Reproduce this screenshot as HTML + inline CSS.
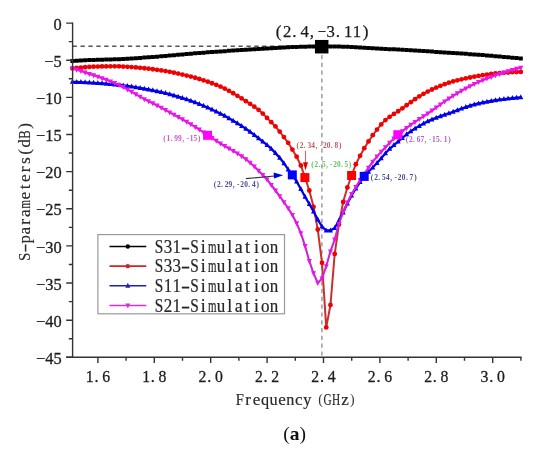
<!DOCTYPE html>
<html><head><meta charset="utf-8"><title>S-parameters</title><style>html,body{margin:0;padding:0;background:#fff;overflow:hidden;}svg{display:block;filter:blur(0.35px);}</style></head><body>
<svg width="550" height="457" viewBox="0 0 550 457">
<rect width="550" height="457" fill="#fff"/>
<line x1="72.6" y1="46.3" x2="315" y2="46.3" stroke="#555" stroke-width="1.4" stroke-dasharray="4.3 3.6"/>
<line x1="321.9" y1="55" x2="321.9" y2="357.3" stroke="#939393" stroke-width="1.35" stroke-dasharray="4.2 3.6"/>
<polyline points="72.43,60.90 76.66,60.69 80.89,60.48 85.12,60.29 89.35,60.11 93.58,59.94 97.81,59.78 102.04,59.63 106.27,59.51 110.50,59.40 114.73,59.28 118.96,59.14 123.19,58.96 127.42,58.75 131.65,58.50 135.88,58.23 140.11,57.93 144.34,57.62 148.57,57.30 152.80,56.97 157.03,56.63 161.26,56.30 165.49,55.93 169.72,55.54 173.95,55.14 178.18,54.76 182.41,54.40 186.64,54.04 190.87,53.69 195.10,53.35 199.33,53.01 203.56,52.68 207.79,52.36 212.02,52.05 216.25,51.75 220.48,51.44 224.71,51.15 228.94,50.86 233.17,50.57 237.40,50.29 241.63,50.02 245.86,49.75 250.09,49.49 254.32,49.24 258.55,48.97 262.78,48.71 267.01,48.45 271.24,48.19 275.47,47.94 279.70,47.70 283.93,47.47 288.16,47.26 292.39,47.08 296.62,46.91 300.85,46.77 305.08,46.64 309.31,46.51 313.54,46.40 317.77,46.33 322.00,46.30 326.23,46.32 330.46,46.39 334.69,46.48 338.92,46.57 343.15,46.69 347.38,46.84 351.61,47.02 355.84,47.23 360.07,47.45 364.30,47.70 368.53,47.94 372.76,48.19 376.99,48.43 381.22,48.67 385.45,48.89 389.68,49.13 393.91,49.36 398.14,49.60 402.37,49.84 406.60,50.09 410.83,50.33 415.06,50.59 419.29,50.84 423.52,51.10 427.75,51.36 431.98,51.62 436.21,51.89 440.44,52.16 444.67,52.43 448.90,52.71 453.13,52.99 457.36,53.27 461.59,53.56 465.82,53.85 470.05,54.16 474.28,54.47 478.51,54.79 482.74,55.11 486.97,55.45 491.20,55.80 495.43,56.16 499.66,56.52 503.89,56.90 508.12,57.28 512.35,57.68 516.58,58.08 520.81,58.48" fill="none" stroke="#000" stroke-width="2.4"/>
<path d="M70.43 58.90h4.0v4.0h-4.0zM74.66 58.69h4.0v4.0h-4.0zM78.89 58.48h4.0v4.0h-4.0zM83.12 58.29h4.0v4.0h-4.0zM87.35 58.11h4.0v4.0h-4.0zM91.58 57.94h4.0v4.0h-4.0zM95.81 57.78h4.0v4.0h-4.0zM100.04 57.63h4.0v4.0h-4.0zM104.27 57.51h4.0v4.0h-4.0zM108.50 57.40h4.0v4.0h-4.0zM112.73 57.28h4.0v4.0h-4.0zM116.96 57.14h4.0v4.0h-4.0zM121.19 56.96h4.0v4.0h-4.0zM125.42 56.75h4.0v4.0h-4.0zM129.65 56.50h4.0v4.0h-4.0zM133.88 56.23h4.0v4.0h-4.0zM138.11 55.93h4.0v4.0h-4.0zM142.34 55.62h4.0v4.0h-4.0zM146.57 55.30h4.0v4.0h-4.0zM150.80 54.97h4.0v4.0h-4.0zM155.03 54.63h4.0v4.0h-4.0zM159.26 54.30h4.0v4.0h-4.0zM163.49 53.93h4.0v4.0h-4.0zM167.72 53.54h4.0v4.0h-4.0zM171.95 53.14h4.0v4.0h-4.0zM176.18 52.76h4.0v4.0h-4.0zM180.41 52.40h4.0v4.0h-4.0zM184.64 52.04h4.0v4.0h-4.0zM188.87 51.69h4.0v4.0h-4.0zM193.10 51.35h4.0v4.0h-4.0zM197.33 51.01h4.0v4.0h-4.0zM201.56 50.68h4.0v4.0h-4.0zM205.79 50.36h4.0v4.0h-4.0zM210.02 50.05h4.0v4.0h-4.0zM214.25 49.75h4.0v4.0h-4.0zM218.48 49.44h4.0v4.0h-4.0zM222.71 49.15h4.0v4.0h-4.0zM226.94 48.86h4.0v4.0h-4.0zM231.17 48.57h4.0v4.0h-4.0zM235.40 48.29h4.0v4.0h-4.0zM239.63 48.02h4.0v4.0h-4.0zM243.86 47.75h4.0v4.0h-4.0zM248.09 47.49h4.0v4.0h-4.0zM252.32 47.24h4.0v4.0h-4.0zM256.55 46.97h4.0v4.0h-4.0zM260.78 46.71h4.0v4.0h-4.0zM265.01 46.45h4.0v4.0h-4.0zM269.24 46.19h4.0v4.0h-4.0zM273.47 45.94h4.0v4.0h-4.0zM277.70 45.70h4.0v4.0h-4.0zM281.93 45.47h4.0v4.0h-4.0zM286.16 45.26h4.0v4.0h-4.0zM290.39 45.08h4.0v4.0h-4.0zM294.62 44.91h4.0v4.0h-4.0zM298.85 44.77h4.0v4.0h-4.0zM303.08 44.64h4.0v4.0h-4.0zM307.31 44.51h4.0v4.0h-4.0zM311.54 44.40h4.0v4.0h-4.0zM315.77 44.33h4.0v4.0h-4.0zM320.00 44.30h4.0v4.0h-4.0zM324.23 44.32h4.0v4.0h-4.0zM328.46 44.39h4.0v4.0h-4.0zM332.69 44.48h4.0v4.0h-4.0zM336.92 44.57h4.0v4.0h-4.0zM341.15 44.69h4.0v4.0h-4.0zM345.38 44.84h4.0v4.0h-4.0zM349.61 45.02h4.0v4.0h-4.0zM353.84 45.23h4.0v4.0h-4.0zM358.07 45.45h4.0v4.0h-4.0zM362.30 45.70h4.0v4.0h-4.0zM366.53 45.94h4.0v4.0h-4.0zM370.76 46.19h4.0v4.0h-4.0zM374.99 46.43h4.0v4.0h-4.0zM379.22 46.67h4.0v4.0h-4.0zM383.45 46.89h4.0v4.0h-4.0zM387.68 47.13h4.0v4.0h-4.0zM391.91 47.36h4.0v4.0h-4.0zM396.14 47.60h4.0v4.0h-4.0zM400.37 47.84h4.0v4.0h-4.0zM404.60 48.09h4.0v4.0h-4.0zM408.83 48.33h4.0v4.0h-4.0zM413.06 48.59h4.0v4.0h-4.0zM417.29 48.84h4.0v4.0h-4.0zM421.52 49.10h4.0v4.0h-4.0zM425.75 49.36h4.0v4.0h-4.0zM429.98 49.62h4.0v4.0h-4.0zM434.21 49.89h4.0v4.0h-4.0zM438.44 50.16h4.0v4.0h-4.0zM442.67 50.43h4.0v4.0h-4.0zM446.90 50.71h4.0v4.0h-4.0zM451.13 50.99h4.0v4.0h-4.0zM455.36 51.27h4.0v4.0h-4.0zM459.59 51.56h4.0v4.0h-4.0zM463.82 51.85h4.0v4.0h-4.0zM468.05 52.16h4.0v4.0h-4.0zM472.28 52.47h4.0v4.0h-4.0zM476.51 52.79h4.0v4.0h-4.0zM480.74 53.11h4.0v4.0h-4.0zM484.97 53.45h4.0v4.0h-4.0zM489.20 53.80h4.0v4.0h-4.0zM493.43 54.16h4.0v4.0h-4.0zM497.66 54.52h4.0v4.0h-4.0zM501.89 54.90h4.0v4.0h-4.0zM506.12 55.28h4.0v4.0h-4.0zM510.35 55.68h4.0v4.0h-4.0zM514.58 56.08h4.0v4.0h-4.0zM518.81 56.48h4.0v4.0h-4.0z" fill="#000"/>
<polyline points="72.43,68.40 76.66,67.97 80.89,67.58 85.12,67.24 89.35,66.95 93.58,66.72 97.81,66.56 102.04,66.46 106.27,66.38 110.50,66.32 114.73,66.30 118.96,66.37 123.19,66.57 127.42,66.83 131.65,67.11 135.88,67.43 140.11,67.80 144.34,68.23 148.57,68.71 152.80,69.23 157.03,69.79 161.26,70.38 165.49,71.05 169.72,71.81 173.95,72.65 178.18,73.56 182.41,74.53 186.64,75.56 190.87,76.62 195.10,77.76 199.33,78.98 203.56,80.30 207.79,81.71 212.02,83.23 216.25,84.86 220.48,86.61 224.71,88.58 228.94,90.82 233.17,93.25 237.40,95.82 241.63,98.47 245.86,101.14 250.09,103.83 254.32,106.68 258.55,109.83 262.78,113.53 267.01,117.90 271.24,122.22 275.47,126.42 279.70,131.57 283.93,137.10 288.16,142.83 292.39,149.61 296.62,156.71 300.85,165.50 305.08,177.60 309.31,190.50 313.54,206.80 317.77,229.50 322.00,262.80 326.23,327.40 330.46,305.00 334.69,254.00 338.92,224.50 343.15,202.00 347.38,187.50 351.61,175.50 355.84,164.27 360.07,155.80 364.30,148.22 368.53,141.41 372.76,135.22 376.99,129.62 381.22,124.42 385.45,120.10 389.68,116.80 393.91,113.97 398.14,111.26 402.37,108.33 406.60,105.25 410.83,102.16 415.06,99.15 419.29,96.34 423.52,93.82 427.75,91.57 431.98,89.49 436.21,87.58 440.44,85.82 444.67,84.19 448.90,82.71 453.13,81.46 457.36,80.34 461.59,79.31 465.82,78.37 470.05,77.51 474.28,76.71 478.51,75.95 482.74,75.22 486.97,74.55 491.20,73.97 495.43,73.52 499.66,73.14 503.89,72.79 508.12,72.48 512.35,72.21 516.58,72.02 520.81,71.90" fill="none" stroke="#c83030" stroke-width="2.0"/>
<circle cx="72.43" cy="68.40" r="2.4" fill="#f00000"/><circle cx="76.66" cy="67.97" r="2.4" fill="#f00000"/><circle cx="80.89" cy="67.58" r="2.4" fill="#f00000"/><circle cx="85.12" cy="67.24" r="2.4" fill="#f00000"/><circle cx="89.35" cy="66.95" r="2.4" fill="#f00000"/><circle cx="93.58" cy="66.72" r="2.4" fill="#f00000"/><circle cx="97.81" cy="66.56" r="2.4" fill="#f00000"/><circle cx="102.04" cy="66.46" r="2.4" fill="#f00000"/><circle cx="106.27" cy="66.38" r="2.4" fill="#f00000"/><circle cx="110.50" cy="66.32" r="2.4" fill="#f00000"/><circle cx="114.73" cy="66.30" r="2.4" fill="#f00000"/><circle cx="118.96" cy="66.37" r="2.4" fill="#f00000"/><circle cx="123.19" cy="66.57" r="2.4" fill="#f00000"/><circle cx="127.42" cy="66.83" r="2.4" fill="#f00000"/><circle cx="131.65" cy="67.11" r="2.4" fill="#f00000"/><circle cx="135.88" cy="67.43" r="2.4" fill="#f00000"/><circle cx="140.11" cy="67.80" r="2.4" fill="#f00000"/><circle cx="144.34" cy="68.23" r="2.4" fill="#f00000"/><circle cx="148.57" cy="68.71" r="2.4" fill="#f00000"/><circle cx="152.80" cy="69.23" r="2.4" fill="#f00000"/><circle cx="157.03" cy="69.79" r="2.4" fill="#f00000"/><circle cx="161.26" cy="70.38" r="2.4" fill="#f00000"/><circle cx="165.49" cy="71.05" r="2.4" fill="#f00000"/><circle cx="169.72" cy="71.81" r="2.4" fill="#f00000"/><circle cx="173.95" cy="72.65" r="2.4" fill="#f00000"/><circle cx="178.18" cy="73.56" r="2.4" fill="#f00000"/><circle cx="182.41" cy="74.53" r="2.4" fill="#f00000"/><circle cx="186.64" cy="75.56" r="2.4" fill="#f00000"/><circle cx="190.87" cy="76.62" r="2.4" fill="#f00000"/><circle cx="195.10" cy="77.76" r="2.4" fill="#f00000"/><circle cx="199.33" cy="78.98" r="2.4" fill="#f00000"/><circle cx="203.56" cy="80.30" r="2.4" fill="#f00000"/><circle cx="207.79" cy="81.71" r="2.4" fill="#f00000"/><circle cx="212.02" cy="83.23" r="2.4" fill="#f00000"/><circle cx="216.25" cy="84.86" r="2.4" fill="#f00000"/><circle cx="220.48" cy="86.61" r="2.4" fill="#f00000"/><circle cx="224.71" cy="88.58" r="2.4" fill="#f00000"/><circle cx="228.94" cy="90.82" r="2.4" fill="#f00000"/><circle cx="233.17" cy="93.25" r="2.4" fill="#f00000"/><circle cx="237.40" cy="95.82" r="2.4" fill="#f00000"/><circle cx="241.63" cy="98.47" r="2.4" fill="#f00000"/><circle cx="245.86" cy="101.14" r="2.4" fill="#f00000"/><circle cx="250.09" cy="103.83" r="2.4" fill="#f00000"/><circle cx="254.32" cy="106.68" r="2.4" fill="#f00000"/><circle cx="258.55" cy="109.83" r="2.4" fill="#f00000"/><circle cx="262.78" cy="113.53" r="2.4" fill="#f00000"/><circle cx="267.01" cy="117.90" r="2.4" fill="#f00000"/><circle cx="271.24" cy="122.22" r="2.4" fill="#f00000"/><circle cx="275.47" cy="126.42" r="2.4" fill="#f00000"/><circle cx="279.70" cy="131.57" r="2.4" fill="#f00000"/><circle cx="283.93" cy="137.10" r="2.4" fill="#f00000"/><circle cx="288.16" cy="142.83" r="2.4" fill="#f00000"/><circle cx="292.39" cy="149.61" r="2.4" fill="#f00000"/><circle cx="296.62" cy="156.71" r="2.4" fill="#f00000"/><circle cx="300.85" cy="165.50" r="2.4" fill="#f00000"/><circle cx="305.08" cy="177.60" r="2.4" fill="#f00000"/><circle cx="309.31" cy="190.50" r="2.4" fill="#f00000"/><circle cx="313.54" cy="206.80" r="2.4" fill="#f00000"/><circle cx="317.77" cy="229.50" r="2.4" fill="#f00000"/><circle cx="322.00" cy="262.80" r="2.4" fill="#f00000"/><circle cx="326.23" cy="327.40" r="2.4" fill="#f00000"/><circle cx="330.46" cy="305.00" r="2.4" fill="#f00000"/><circle cx="334.69" cy="254.00" r="2.4" fill="#f00000"/><circle cx="338.92" cy="224.50" r="2.4" fill="#f00000"/><circle cx="343.15" cy="202.00" r="2.4" fill="#f00000"/><circle cx="347.38" cy="187.50" r="2.4" fill="#f00000"/><circle cx="351.61" cy="175.50" r="2.4" fill="#f00000"/><circle cx="355.84" cy="164.27" r="2.4" fill="#f00000"/><circle cx="360.07" cy="155.80" r="2.4" fill="#f00000"/><circle cx="364.30" cy="148.22" r="2.4" fill="#f00000"/><circle cx="368.53" cy="141.41" r="2.4" fill="#f00000"/><circle cx="372.76" cy="135.22" r="2.4" fill="#f00000"/><circle cx="376.99" cy="129.62" r="2.4" fill="#f00000"/><circle cx="381.22" cy="124.42" r="2.4" fill="#f00000"/><circle cx="385.45" cy="120.10" r="2.4" fill="#f00000"/><circle cx="389.68" cy="116.80" r="2.4" fill="#f00000"/><circle cx="393.91" cy="113.97" r="2.4" fill="#f00000"/><circle cx="398.14" cy="111.26" r="2.4" fill="#f00000"/><circle cx="402.37" cy="108.33" r="2.4" fill="#f00000"/><circle cx="406.60" cy="105.25" r="2.4" fill="#f00000"/><circle cx="410.83" cy="102.16" r="2.4" fill="#f00000"/><circle cx="415.06" cy="99.15" r="2.4" fill="#f00000"/><circle cx="419.29" cy="96.34" r="2.4" fill="#f00000"/><circle cx="423.52" cy="93.82" r="2.4" fill="#f00000"/><circle cx="427.75" cy="91.57" r="2.4" fill="#f00000"/><circle cx="431.98" cy="89.49" r="2.4" fill="#f00000"/><circle cx="436.21" cy="87.58" r="2.4" fill="#f00000"/><circle cx="440.44" cy="85.82" r="2.4" fill="#f00000"/><circle cx="444.67" cy="84.19" r="2.4" fill="#f00000"/><circle cx="448.90" cy="82.71" r="2.4" fill="#f00000"/><circle cx="453.13" cy="81.46" r="2.4" fill="#f00000"/><circle cx="457.36" cy="80.34" r="2.4" fill="#f00000"/><circle cx="461.59" cy="79.31" r="2.4" fill="#f00000"/><circle cx="465.82" cy="78.37" r="2.4" fill="#f00000"/><circle cx="470.05" cy="77.51" r="2.4" fill="#f00000"/><circle cx="474.28" cy="76.71" r="2.4" fill="#f00000"/><circle cx="478.51" cy="75.95" r="2.4" fill="#f00000"/><circle cx="482.74" cy="75.22" r="2.4" fill="#f00000"/><circle cx="486.97" cy="74.55" r="2.4" fill="#f00000"/><circle cx="491.20" cy="73.97" r="2.4" fill="#f00000"/><circle cx="495.43" cy="73.52" r="2.4" fill="#f00000"/><circle cx="499.66" cy="73.14" r="2.4" fill="#f00000"/><circle cx="503.89" cy="72.79" r="2.4" fill="#f00000"/><circle cx="508.12" cy="72.48" r="2.4" fill="#f00000"/><circle cx="512.35" cy="72.21" r="2.4" fill="#f00000"/><circle cx="516.58" cy="72.02" r="2.4" fill="#f00000"/><circle cx="520.81" cy="71.90" r="2.4" fill="#f00000"/>
<polyline points="72.43,81.80 76.66,81.94 80.89,82.11 85.12,82.31 89.35,82.54 93.58,82.79 97.81,83.06 102.04,83.34 106.27,83.67 110.50,84.05 114.73,84.46 118.96,84.90 123.19,85.39 127.42,85.94 131.65,86.54 135.88,87.19 140.11,87.89 144.34,88.63 148.57,89.42 152.80,90.26 157.03,91.15 161.26,92.09 165.49,93.11 169.72,94.21 173.95,95.39 178.18,96.64 182.41,97.97 186.64,99.35 190.87,100.80 195.10,102.35 199.33,104.00 203.56,105.75 207.79,107.60 212.02,109.53 216.25,111.55 220.48,113.64 224.71,115.85 228.94,118.20 233.17,120.68 237.40,123.28 241.63,125.98 245.86,128.78 250.09,131.79 254.32,134.98 258.55,138.27 262.78,141.55 267.01,144.90 271.24,148.68 275.47,153.11 279.70,157.83 283.93,163.15 288.16,169.39 292.39,174.89 296.62,181.50 300.85,189.00 305.08,196.80 309.31,204.00 313.54,211.50 317.77,219.50 322.00,226.50 326.23,230.50 330.46,230.50 334.69,228.00 338.92,220.50 343.15,212.50 347.38,203.50 351.61,195.50 355.84,188.50 360.07,182.00 364.30,176.40 368.53,171.74 372.76,167.47 376.99,163.05 381.22,158.20 385.45,153.30 389.68,148.81 393.91,145.02 398.14,141.55 402.37,137.93 406.60,134.30 410.83,131.28 415.06,128.49 419.29,125.89 423.52,123.51 427.75,121.36 431.98,119.43 436.21,117.72 440.44,116.17 444.67,114.70 448.90,113.25 453.13,111.76 457.36,110.18 461.59,108.58 465.82,107.05 470.05,105.66 474.28,104.48 478.51,103.45 482.74,102.51 486.97,101.66 491.20,100.90 495.43,100.23 499.66,99.62 503.89,99.04 508.12,98.52 512.35,98.05 516.58,97.64 520.81,97.31" fill="none" stroke="#0000e0" stroke-width="2.3"/>
<path d="M72.43 78.80L74.93 83.80L69.93 83.80zM76.66 78.94L79.16 83.94L74.16 83.94zM80.89 79.11L83.39 84.11L78.39 84.11zM85.12 79.31L87.62 84.31L82.62 84.31zM89.35 79.54L91.85 84.54L86.85 84.54zM93.58 79.79L96.08 84.79L91.08 84.79zM97.81 80.06L100.31 85.06L95.31 85.06zM102.04 80.34L104.54 85.34L99.54 85.34zM106.27 80.67L108.77 85.67L103.77 85.67zM110.50 81.05L113.00 86.05L108.00 86.05zM114.73 81.46L117.23 86.46L112.23 86.46zM118.96 81.90L121.46 86.90L116.46 86.90zM123.19 82.39L125.69 87.39L120.69 87.39zM127.42 82.94L129.92 87.94L124.92 87.94zM131.65 83.54L134.15 88.54L129.15 88.54zM135.88 84.19L138.38 89.19L133.38 89.19zM140.11 84.89L142.61 89.89L137.61 89.89zM144.34 85.63L146.84 90.63L141.84 90.63zM148.57 86.42L151.07 91.42L146.07 91.42zM152.80 87.26L155.30 92.26L150.30 92.26zM157.03 88.15L159.53 93.15L154.53 93.15zM161.26 89.09L163.76 94.09L158.76 94.09zM165.49 90.11L167.99 95.11L162.99 95.11zM169.72 91.21L172.22 96.21L167.22 96.21zM173.95 92.39L176.45 97.39L171.45 97.39zM178.18 93.64L180.68 98.64L175.68 98.64zM182.41 94.97L184.91 99.97L179.91 99.97zM186.64 96.35L189.14 101.35L184.14 101.35zM190.87 97.80L193.37 102.80L188.37 102.80zM195.10 99.35L197.60 104.35L192.60 104.35zM199.33 101.00L201.83 106.00L196.83 106.00zM203.56 102.75L206.06 107.75L201.06 107.75zM207.79 104.60L210.29 109.60L205.29 109.60zM212.02 106.53L214.52 111.53L209.52 111.53zM216.25 108.55L218.75 113.55L213.75 113.55zM220.48 110.64L222.98 115.64L217.98 115.64zM224.71 112.85L227.21 117.85L222.21 117.85zM228.94 115.20L231.44 120.20L226.44 120.20zM233.17 117.68L235.67 122.68L230.67 122.68zM237.40 120.28L239.90 125.28L234.90 125.28zM241.63 122.98L244.13 127.98L239.13 127.98zM245.86 125.78L248.36 130.78L243.36 130.78zM250.09 128.79L252.59 133.79L247.59 133.79zM254.32 131.98L256.82 136.98L251.82 136.98zM258.55 135.27L261.05 140.27L256.05 140.27zM262.78 138.55L265.28 143.55L260.28 143.55zM267.01 141.90L269.51 146.90L264.51 146.90zM271.24 145.68L273.74 150.68L268.74 150.68zM275.47 150.11L277.97 155.11L272.97 155.11zM279.70 154.83L282.20 159.83L277.20 159.83zM283.93 160.15L286.43 165.15L281.43 165.15zM288.16 166.39L290.66 171.39L285.66 171.39zM292.39 171.89L294.89 176.89L289.89 176.89zM296.62 178.50L299.12 183.50L294.12 183.50zM300.85 186.00L303.35 191.00L298.35 191.00zM305.08 193.80L307.58 198.80L302.58 198.80zM309.31 201.00L311.81 206.00L306.81 206.00zM313.54 208.50L316.04 213.50L311.04 213.50zM317.77 216.50L320.27 221.50L315.27 221.50zM322.00 223.50L324.50 228.50L319.50 228.50zM326.23 227.50L328.73 232.50L323.73 232.50zM330.46 227.50L332.96 232.50L327.96 232.50zM334.69 225.00L337.19 230.00L332.19 230.00zM338.92 217.50L341.42 222.50L336.42 222.50zM343.15 209.50L345.65 214.50L340.65 214.50zM347.38 200.50L349.88 205.50L344.88 205.50zM351.61 192.50L354.11 197.50L349.11 197.50zM355.84 185.50L358.34 190.50L353.34 190.50zM360.07 179.00L362.57 184.00L357.57 184.00zM364.30 173.40L366.80 178.40L361.80 178.40zM368.53 168.74L371.03 173.74L366.03 173.74zM372.76 164.47L375.26 169.47L370.26 169.47zM376.99 160.05L379.49 165.05L374.49 165.05zM381.22 155.20L383.72 160.20L378.72 160.20zM385.45 150.30L387.95 155.30L382.95 155.30zM389.68 145.81L392.18 150.81L387.18 150.81zM393.91 142.02L396.41 147.02L391.41 147.02zM398.14 138.55L400.64 143.55L395.64 143.55zM402.37 134.93L404.87 139.93L399.87 139.93zM406.60 131.30L409.10 136.30L404.10 136.30zM410.83 128.28L413.33 133.28L408.33 133.28zM415.06 125.49L417.56 130.49L412.56 130.49zM419.29 122.89L421.79 127.89L416.79 127.89zM423.52 120.51L426.02 125.51L421.02 125.51zM427.75 118.36L430.25 123.36L425.25 123.36zM431.98 116.43L434.48 121.43L429.48 121.43zM436.21 114.72L438.71 119.72L433.71 119.72zM440.44 113.17L442.94 118.17L437.94 118.17zM444.67 111.70L447.17 116.70L442.17 116.70zM448.90 110.25L451.40 115.25L446.40 115.25zM453.13 108.76L455.63 113.76L450.63 113.76zM457.36 107.18L459.86 112.18L454.86 112.18zM461.59 105.58L464.09 110.58L459.09 110.58zM465.82 104.05L468.32 109.05L463.32 109.05zM470.05 102.66L472.55 107.66L467.55 107.66zM474.28 101.48L476.78 106.48L471.78 106.48zM478.51 100.45L481.01 105.45L476.01 105.45zM482.74 99.51L485.24 104.51L480.24 104.51zM486.97 98.66L489.47 103.66L484.47 103.66zM491.20 97.90L493.70 102.90L488.70 102.90zM495.43 97.23L497.93 102.23L492.93 102.23zM499.66 96.62L502.16 101.62L497.16 101.62zM503.89 96.04L506.39 101.04L501.39 101.04zM508.12 95.52L510.62 100.52L505.62 100.52zM512.35 95.05L514.85 100.05L509.85 100.05zM516.58 94.64L519.08 99.64L514.08 99.64zM520.81 94.31L523.31 99.31L518.31 99.31z" fill="#0000ea"/>
<polyline points="72.43,68.51 76.66,69.79 80.89,71.11 85.12,72.48 89.35,73.89 93.58,75.34 97.81,76.82 102.04,78.33 106.27,79.85 110.50,81.42 114.73,83.11 118.96,84.96 123.19,87.10 127.42,89.45 131.65,91.84 135.88,94.34 140.11,96.83 144.34,99.14 148.57,101.28 152.80,103.35 157.03,105.46 161.26,107.68 165.49,110.06 169.72,112.45 173.95,114.74 178.18,116.99 182.41,119.30 186.64,121.74 190.87,124.31 195.10,126.90 199.33,129.57 203.56,132.41 207.79,135.31 212.02,138.09 216.25,140.82 220.48,143.50 224.71,146.05 228.94,148.48 233.17,150.90 237.40,153.42 241.63,156.13 245.86,159.15 250.09,162.68 254.32,166.56 258.55,170.72 262.78,174.91 267.01,179.42 271.24,184.99 275.47,190.50 279.70,196.23 283.93,202.14 288.16,208.25 292.39,215.09 296.62,223.31 300.85,233.20 305.08,246.00 309.31,261.00 313.54,273.30 317.77,282.90 322.00,278.50 326.23,266.30 330.46,251.40 334.69,239.50 338.92,224.00 343.15,212.00 347.38,202.50 351.61,194.00 355.84,187.00 360.07,180.00 364.30,173.86 368.53,167.67 372.76,161.69 376.99,156.56 381.22,151.81 385.45,147.19 389.68,142.73 393.91,138.52 398.14,134.64 402.37,131.14 406.60,127.91 410.83,124.84 415.06,121.88 419.29,119.06 423.52,116.30 427.75,113.52 431.98,110.62 436.21,107.59 440.44,104.51 444.67,101.46 448.90,98.54 453.13,95.83 457.36,93.25 461.59,90.76 465.82,88.39 470.05,86.15 474.28,84.07 478.51,82.12 482.74,80.28 486.97,78.54 491.20,76.90 495.43,75.36 499.66,73.90 503.89,72.50 508.12,71.17 512.35,69.91 516.58,68.73 520.81,67.65" fill="none" stroke="#c828d0" stroke-width="2.1"/>
<path d="M72.43 71.51L74.93 66.51L69.93 66.51zM76.66 72.79L79.16 67.79L74.16 67.79zM80.89 74.11L83.39 69.11L78.39 69.11zM85.12 75.48L87.62 70.48L82.62 70.48zM89.35 76.89L91.85 71.89L86.85 71.89zM93.58 78.34L96.08 73.34L91.08 73.34zM97.81 79.82L100.31 74.82L95.31 74.82zM102.04 81.33L104.54 76.33L99.54 76.33zM106.27 82.85L108.77 77.85L103.77 77.85zM110.50 84.42L113.00 79.42L108.00 79.42zM114.73 86.11L117.23 81.11L112.23 81.11zM118.96 87.96L121.46 82.96L116.46 82.96zM123.19 90.10L125.69 85.10L120.69 85.10zM127.42 92.45L129.92 87.45L124.92 87.45zM131.65 94.84L134.15 89.84L129.15 89.84zM135.88 97.34L138.38 92.34L133.38 92.34zM140.11 99.83L142.61 94.83L137.61 94.83zM144.34 102.14L146.84 97.14L141.84 97.14zM148.57 104.28L151.07 99.28L146.07 99.28zM152.80 106.35L155.30 101.35L150.30 101.35zM157.03 108.46L159.53 103.46L154.53 103.46zM161.26 110.68L163.76 105.68L158.76 105.68zM165.49 113.06L167.99 108.06L162.99 108.06zM169.72 115.45L172.22 110.45L167.22 110.45zM173.95 117.74L176.45 112.74L171.45 112.74zM178.18 119.99L180.68 114.99L175.68 114.99zM182.41 122.30L184.91 117.30L179.91 117.30zM186.64 124.74L189.14 119.74L184.14 119.74zM190.87 127.31L193.37 122.31L188.37 122.31zM195.10 129.90L197.60 124.90L192.60 124.90zM199.33 132.57L201.83 127.57L196.83 127.57zM203.56 135.41L206.06 130.41L201.06 130.41zM207.79 138.31L210.29 133.31L205.29 133.31zM212.02 141.09L214.52 136.09L209.52 136.09zM216.25 143.82L218.75 138.82L213.75 138.82zM220.48 146.50L222.98 141.50L217.98 141.50zM224.71 149.05L227.21 144.05L222.21 144.05zM228.94 151.48L231.44 146.48L226.44 146.48zM233.17 153.90L235.67 148.90L230.67 148.90zM237.40 156.42L239.90 151.42L234.90 151.42zM241.63 159.13L244.13 154.13L239.13 154.13zM245.86 162.15L248.36 157.15L243.36 157.15zM250.09 165.68L252.59 160.68L247.59 160.68zM254.32 169.56L256.82 164.56L251.82 164.56zM258.55 173.72L261.05 168.72L256.05 168.72zM262.78 177.91L265.28 172.91L260.28 172.91zM267.01 182.42L269.51 177.42L264.51 177.42zM271.24 187.99L273.74 182.99L268.74 182.99zM275.47 193.50L277.97 188.50L272.97 188.50zM279.70 199.23L282.20 194.23L277.20 194.23zM283.93 205.14L286.43 200.14L281.43 200.14zM288.16 211.25L290.66 206.25L285.66 206.25zM292.39 218.09L294.89 213.09L289.89 213.09zM296.62 226.31L299.12 221.31L294.12 221.31zM300.85 236.20L303.35 231.20L298.35 231.20zM305.08 249.00L307.58 244.00L302.58 244.00zM309.31 264.00L311.81 259.00L306.81 259.00zM313.54 276.30L316.04 271.30L311.04 271.30zM317.77 285.90L320.27 280.90L315.27 280.90zM322.00 281.50L324.50 276.50L319.50 276.50zM326.23 269.30L328.73 264.30L323.73 264.30zM330.46 254.40L332.96 249.40L327.96 249.40zM334.69 242.50L337.19 237.50L332.19 237.50zM338.92 227.00L341.42 222.00L336.42 222.00zM343.15 215.00L345.65 210.00L340.65 210.00zM347.38 205.50L349.88 200.50L344.88 200.50zM351.61 197.00L354.11 192.00L349.11 192.00zM355.84 190.00L358.34 185.00L353.34 185.00zM360.07 183.00L362.57 178.00L357.57 178.00zM364.30 176.86L366.80 171.86L361.80 171.86zM368.53 170.67L371.03 165.67L366.03 165.67zM372.76 164.69L375.26 159.69L370.26 159.69zM376.99 159.56L379.49 154.56L374.49 154.56zM381.22 154.81L383.72 149.81L378.72 149.81zM385.45 150.19L387.95 145.19L382.95 145.19zM389.68 145.73L392.18 140.73L387.18 140.73zM393.91 141.52L396.41 136.52L391.41 136.52zM398.14 137.64L400.64 132.64L395.64 132.64zM402.37 134.14L404.87 129.14L399.87 129.14zM406.60 130.91L409.10 125.91L404.10 125.91zM410.83 127.84L413.33 122.84L408.33 122.84zM415.06 124.88L417.56 119.88L412.56 119.88zM419.29 122.06L421.79 117.06L416.79 117.06zM423.52 119.30L426.02 114.30L421.02 114.30zM427.75 116.52L430.25 111.52L425.25 111.52zM431.98 113.62L434.48 108.62L429.48 108.62zM436.21 110.59L438.71 105.59L433.71 105.59zM440.44 107.51L442.94 102.51L437.94 102.51zM444.67 104.46L447.17 99.46L442.17 99.46zM448.90 101.54L451.40 96.54L446.40 96.54zM453.13 98.83L455.63 93.83L450.63 93.83zM457.36 96.25L459.86 91.25L454.86 91.25zM461.59 93.76L464.09 88.76L459.09 88.76zM465.82 91.39L468.32 86.39L463.32 86.39zM470.05 89.15L472.55 84.15L467.55 84.15zM474.28 87.07L476.78 82.07L471.78 82.07zM478.51 85.12L481.01 80.12L476.01 80.12zM482.74 83.28L485.24 78.28L480.24 78.28zM486.97 81.54L489.47 76.54L484.47 76.54zM491.20 79.90L493.70 74.90L488.70 74.90zM495.43 78.36L497.93 73.36L492.93 73.36zM499.66 76.90L502.16 71.90L497.16 71.90zM503.89 75.50L506.39 70.50L501.39 70.50zM508.12 74.17L510.62 69.17L505.62 69.17zM512.35 72.91L514.85 67.91L509.85 67.91zM516.58 71.73L519.08 66.73L514.08 66.73zM520.81 70.65L523.31 65.65L518.31 65.65z" fill="#f010f0"/>
<rect x="314.95" y="39.95" width="13.5" height="13.5" fill="#000"/>
<rect x="203.10" y="130.80" width="9" height="9" fill="#ff00ff"/>
<rect x="393.30" y="130.20" width="9" height="9" fill="#ff00ff"/>
<rect x="287.80" y="170.40" width="9" height="9" fill="#0000ff"/>
<rect x="359.70" y="171.90" width="9" height="9" fill="#0000ff"/>
<rect x="300.40" y="173.10" width="9" height="9" fill="#ff0000"/>
<rect x="347.10" y="171.00" width="9" height="9" fill="#ff0000"/>
<line x1="245.9" y1="178.6" x2="274.5" y2="176.0" stroke="#334" stroke-width="1.2"/>
<path d="M283.2 175.2L273.6 172.6L274.0 178.6z" fill="#0000dd"/>
<line x1="305.5" y1="150.5" x2="305.5" y2="163" stroke="#c07070" stroke-width="1.1"/>
<path d="M305.5 170.5L303.0 162.3L308.0 162.3z" fill="#e00000"/>
<line x1="72.6" y1="22.5" x2="72.6" y2="357.90000000000003" stroke="#333" stroke-width="1.4"/>
<line x1="66.19999999999999" y1="357.3" x2="521.6" y2="357.3" stroke="#333" stroke-width="1.4"/>
<path d="M66.20 23.10H72.6M66.20 60.23H72.6M66.20 97.37H72.6M66.20 134.50H72.6M66.20 171.64H72.6M66.20 208.77H72.6M66.20 245.91H72.6M66.20 283.05H72.6M66.20 320.18H72.6M66.20 357.31H72.6M68.80 41.67H72.6M68.80 78.80H72.6M68.80 115.94H72.6M68.80 153.07H72.6M68.80 190.21H72.6M68.80 227.34H72.6M68.80 264.48H72.6M68.80 301.61H72.6M68.80 338.75H72.6M97.90 357.3V362.90M154.30 357.3V362.90M210.70 357.3V362.90M267.10 357.3V362.90M323.50 357.3V362.90M379.90 357.3V362.90M436.30 357.3V362.90M492.70 357.3V362.90M126.10 357.3V360.70M182.50 357.3V360.70M238.90 357.3V360.70M295.30 357.3V360.70M351.70 357.3V360.70M408.10 357.3V360.70M464.50 357.3V360.70M520.90 357.3V360.70" stroke="#333" stroke-width="1.4" fill="none"/>
<text x="61.6" y="29.70" font-size="16.4" fill="#1e1e1e" stroke="#1e1e1e" stroke-width="0.3" font-family="'Liberation Serif', serif" text-anchor="end">0</text>
<text x="61.6" y="66.83" font-size="16.4" fill="#1e1e1e" stroke="#1e1e1e" stroke-width="0.3" font-family="'Liberation Serif', serif" text-anchor="end">−5</text>
<text x="61.6" y="103.97" font-size="16.4" fill="#1e1e1e" stroke="#1e1e1e" stroke-width="0.3" font-family="'Liberation Serif', serif" text-anchor="end">−10</text>
<text x="61.6" y="141.10" font-size="16.4" fill="#1e1e1e" stroke="#1e1e1e" stroke-width="0.3" font-family="'Liberation Serif', serif" text-anchor="end">−15</text>
<text x="61.6" y="178.24" font-size="16.4" fill="#1e1e1e" stroke="#1e1e1e" stroke-width="0.3" font-family="'Liberation Serif', serif" text-anchor="end">−20</text>
<text x="61.6" y="215.37" font-size="16.4" fill="#1e1e1e" stroke="#1e1e1e" stroke-width="0.3" font-family="'Liberation Serif', serif" text-anchor="end">−25</text>
<text x="61.6" y="252.51" font-size="16.4" fill="#1e1e1e" stroke="#1e1e1e" stroke-width="0.3" font-family="'Liberation Serif', serif" text-anchor="end">−30</text>
<text x="61.6" y="289.65" font-size="16.4" fill="#1e1e1e" stroke="#1e1e1e" stroke-width="0.3" font-family="'Liberation Serif', serif" text-anchor="end">−35</text>
<text x="61.6" y="326.78" font-size="16.4" fill="#1e1e1e" stroke="#1e1e1e" stroke-width="0.3" font-family="'Liberation Serif', serif" text-anchor="end">−40</text>
<text x="61.6" y="363.92" font-size="16.4" fill="#1e1e1e" stroke="#1e1e1e" stroke-width="0.3" font-family="'Liberation Serif', serif" text-anchor="end">−45</text>
<g font-size="16.2" fill="#1e1e1e" font-family="'Liberation Serif', serif" stroke="#1e1e1e" stroke-width="0.3"><text x="85.76" y="381.90" textLength="7.87" lengthAdjust="spacingAndGlyphs">1</text><text x="94.40" y="381.90">.</text><text x="102.16" y="381.90" textLength="7.87" lengthAdjust="spacingAndGlyphs">6</text></g>
<g font-size="16.2" fill="#1e1e1e" font-family="'Liberation Serif', serif" stroke="#1e1e1e" stroke-width="0.3"><text x="142.16" y="381.90" textLength="7.87" lengthAdjust="spacingAndGlyphs">1</text><text x="150.80" y="381.90">.</text><text x="158.56" y="381.90" textLength="7.87" lengthAdjust="spacingAndGlyphs">8</text></g>
<g font-size="16.2" fill="#1e1e1e" font-family="'Liberation Serif', serif" stroke="#1e1e1e" stroke-width="0.3"><text x="198.56" y="381.90" textLength="7.87" lengthAdjust="spacingAndGlyphs">2</text><text x="207.20" y="381.90">.</text><text x="214.96" y="381.90" textLength="7.87" lengthAdjust="spacingAndGlyphs">0</text></g>
<g font-size="16.2" fill="#1e1e1e" font-family="'Liberation Serif', serif" stroke="#1e1e1e" stroke-width="0.3"><text x="254.96" y="381.90" textLength="7.87" lengthAdjust="spacingAndGlyphs">2</text><text x="263.60" y="381.90">.</text><text x="271.36" y="381.90" textLength="7.87" lengthAdjust="spacingAndGlyphs">2</text></g>
<g font-size="16.2" fill="#1e1e1e" font-family="'Liberation Serif', serif" stroke="#1e1e1e" stroke-width="0.3"><text x="311.36" y="381.90" textLength="7.87" lengthAdjust="spacingAndGlyphs">2</text><text x="320.00" y="381.90">.</text><text x="327.76" y="381.90" textLength="7.87" lengthAdjust="spacingAndGlyphs">4</text></g>
<g font-size="16.2" fill="#1e1e1e" font-family="'Liberation Serif', serif" stroke="#1e1e1e" stroke-width="0.3"><text x="367.76" y="381.90" textLength="7.87" lengthAdjust="spacingAndGlyphs">2</text><text x="376.40" y="381.90">.</text><text x="384.16" y="381.90" textLength="7.87" lengthAdjust="spacingAndGlyphs">6</text></g>
<g font-size="16.2" fill="#1e1e1e" font-family="'Liberation Serif', serif" stroke="#1e1e1e" stroke-width="0.3"><text x="424.16" y="381.90" textLength="7.87" lengthAdjust="spacingAndGlyphs">2</text><text x="432.80" y="381.90">.</text><text x="440.56" y="381.90" textLength="7.87" lengthAdjust="spacingAndGlyphs">8</text></g>
<g font-size="16.2" fill="#1e1e1e" font-family="'Liberation Serif', serif" stroke="#1e1e1e" stroke-width="0.3"><text x="480.56" y="381.90" textLength="7.87" lengthAdjust="spacingAndGlyphs">3</text><text x="489.20" y="381.90">.</text><text x="496.96" y="381.90" textLength="7.87" lengthAdjust="spacingAndGlyphs">0</text></g>
<g font-size="17" fill="#2a2a2a" font-family="'Liberation Serif', serif" stroke="#2a2a2a" stroke-width="0.2"><text x="235.67" y="405.40" textLength="8.11" lengthAdjust="spacingAndGlyphs">F</text><text x="245.34" y="405.40">r</text><text x="252.85" y="405.40">e</text><text x="261.02" y="405.40" textLength="8.11" lengthAdjust="spacingAndGlyphs">q</text><text x="269.47" y="405.40" textLength="8.11" lengthAdjust="spacingAndGlyphs">u</text><text x="278.20" y="405.40">e</text><text x="286.37" y="405.40" textLength="8.11" lengthAdjust="spacingAndGlyphs">n</text><text x="295.10" y="405.40">c</text><text x="303.27" y="405.40" textLength="8.11" lengthAdjust="spacingAndGlyphs">y</text></g>
<g font-size="17" fill="#2a2a2a" font-family="'Liberation Serif', serif" stroke="#2a2a2a" stroke-width="0.2"><text x="323.62" y="405.40" textLength="8.16" lengthAdjust="spacingAndGlyphs">G</text><text x="332.12" y="405.40" textLength="8.16" lengthAdjust="spacingAndGlyphs">H</text><text x="341.23" y="405.40">z</text></g>
<g font-size="13.8" fill="#333" font-family="'Liberation Serif', serif" ><text x="318.30" y="403.80">(</text><text x="350.10" y="403.80">)</text></g>
<g transform="translate(29.7 261.2) rotate(-90)"><g font-size="17.4" fill="#2a2a2a" font-family="'Liberation Serif', serif" stroke="#2a2a2a" stroke-width="0.15"><text x="0.17" y="0.00" textLength="8.39" lengthAdjust="spacingAndGlyphs">S</text><text x="8.65" y="0.00" textLength="8.91" lengthAdjust="spacingAndGlyphs">-</text><text x="17.65" y="0.00" textLength="8.39" lengthAdjust="spacingAndGlyphs">p</text><text x="26.73" y="0.00">a</text><text x="36.43" y="0.00">r</text><text x="44.21" y="0.00">a</text><text x="52.61" y="0.00" textLength="8.39" lengthAdjust="spacingAndGlyphs">m</text><text x="61.69" y="0.00">e</text><text x="71.87" y="0.00">t</text><text x="79.17" y="0.00">e</text><text x="88.87" y="0.00">r</text><text x="97.12" y="0.00">s</text><text x="106.35" y="0.00">(</text><text x="113.79" y="0.00" textLength="8.39" lengthAdjust="spacingAndGlyphs">d</text><text x="122.53" y="0.00" textLength="8.39" lengthAdjust="spacingAndGlyphs">B</text><text x="132.57" y="0.00">)</text></g></g>
<g font-size="17.2" fill="#1a1a1a" font-family="'Liberation Serif', serif" stroke="#1a1a1a" stroke-width="0.25"><text x="275.69" y="37.30">(</text><text x="283.07" y="37.30" textLength="8.35" lengthAdjust="spacingAndGlyphs">2</text><text x="292.23" y="37.30">.</text><text x="300.47" y="37.30" textLength="8.35" lengthAdjust="spacingAndGlyphs">4</text><text x="309.63" y="37.30">,</text><text x="317.87" y="37.30" textLength="8.35" lengthAdjust="spacingAndGlyphs">−</text><text x="326.57" y="37.30" textLength="8.35" lengthAdjust="spacingAndGlyphs">3</text><text x="335.73" y="37.30">.</text><text x="343.97" y="37.30" textLength="8.35" lengthAdjust="spacingAndGlyphs">1</text><text x="352.67" y="37.30" textLength="8.35" lengthAdjust="spacingAndGlyphs">1</text><text x="362.69" y="37.30">)</text></g>
<rect x="97.9" y="234.6" width="186.6" height="79.2" fill="#fff" stroke="#999" stroke-width="1.2"/>
<line x1="109.5" y1="246.50" x2="146.3" y2="246.50" stroke="#000" stroke-width="1.6"/>
<circle cx="127.8" cy="246.50" r="2.2" fill="#000"/>
<g font-size="17.8" fill="#262626" font-family="'Liberation Serif', serif" stroke="#262626" stroke-width="0.2"><text x="154.78" y="252.80" textLength="8.50" lengthAdjust="spacingAndGlyphs">S</text><text x="163.63" y="252.80" textLength="8.50" lengthAdjust="spacingAndGlyphs">3</text><text x="172.48" y="252.80" textLength="8.50" lengthAdjust="spacingAndGlyphs">1</text><text x="181.06" y="252.80" textLength="9.03" lengthAdjust="spacingAndGlyphs">-</text><text x="190.18" y="252.80" textLength="8.50" lengthAdjust="spacingAndGlyphs">S</text><text x="200.80" y="252.80">i</text><text x="207.88" y="252.80" textLength="8.50" lengthAdjust="spacingAndGlyphs">m</text><text x="216.73" y="252.80" textLength="8.50" lengthAdjust="spacingAndGlyphs">u</text><text x="227.35" y="252.80">l</text><text x="234.72" y="252.80">a</text><text x="245.05" y="252.80">t</text><text x="253.90" y="252.80">i</text><text x="260.98" y="252.80" textLength="8.50" lengthAdjust="spacingAndGlyphs">o</text><text x="269.83" y="252.80" textLength="8.50" lengthAdjust="spacingAndGlyphs">n</text></g>
<line x1="109.5" y1="266.15" x2="146.3" y2="266.15" stroke="#d02424" stroke-width="1.6"/>
<circle cx="127.8" cy="266.15" r="2.2" fill="#d02424"/>
<g font-size="17.8" fill="#262626" font-family="'Liberation Serif', serif" stroke="#262626" stroke-width="0.2"><text x="154.78" y="272.45" textLength="8.50" lengthAdjust="spacingAndGlyphs">S</text><text x="163.63" y="272.45" textLength="8.50" lengthAdjust="spacingAndGlyphs">3</text><text x="172.48" y="272.45" textLength="8.50" lengthAdjust="spacingAndGlyphs">3</text><text x="181.06" y="272.45" textLength="9.03" lengthAdjust="spacingAndGlyphs">-</text><text x="190.18" y="272.45" textLength="8.50" lengthAdjust="spacingAndGlyphs">S</text><text x="200.80" y="272.45">i</text><text x="207.88" y="272.45" textLength="8.50" lengthAdjust="spacingAndGlyphs">m</text><text x="216.73" y="272.45" textLength="8.50" lengthAdjust="spacingAndGlyphs">u</text><text x="227.35" y="272.45">l</text><text x="234.72" y="272.45">a</text><text x="245.05" y="272.45">t</text><text x="253.90" y="272.45">i</text><text x="260.98" y="272.45" textLength="8.50" lengthAdjust="spacingAndGlyphs">o</text><text x="269.83" y="272.45" textLength="8.50" lengthAdjust="spacingAndGlyphs">n</text></g>
<line x1="109.5" y1="285.80" x2="146.3" y2="285.80" stroke="#2020b4" stroke-width="1.6"/>
<path d="M127.80 282.80L130.30 287.80L125.30 287.80z" fill="#2020b4"/>
<g font-size="17.8" fill="#262626" font-family="'Liberation Serif', serif" stroke="#262626" stroke-width="0.2"><text x="154.78" y="292.10" textLength="8.50" lengthAdjust="spacingAndGlyphs">S</text><text x="163.63" y="292.10" textLength="8.50" lengthAdjust="spacingAndGlyphs">1</text><text x="172.48" y="292.10" textLength="8.50" lengthAdjust="spacingAndGlyphs">1</text><text x="181.06" y="292.10" textLength="9.03" lengthAdjust="spacingAndGlyphs">-</text><text x="190.18" y="292.10" textLength="8.50" lengthAdjust="spacingAndGlyphs">S</text><text x="200.80" y="292.10">i</text><text x="207.88" y="292.10" textLength="8.50" lengthAdjust="spacingAndGlyphs">m</text><text x="216.73" y="292.10" textLength="8.50" lengthAdjust="spacingAndGlyphs">u</text><text x="227.35" y="292.10">l</text><text x="234.72" y="292.10">a</text><text x="245.05" y="292.10">t</text><text x="253.90" y="292.10">i</text><text x="260.98" y="292.10" textLength="8.50" lengthAdjust="spacingAndGlyphs">o</text><text x="269.83" y="292.10" textLength="8.50" lengthAdjust="spacingAndGlyphs">n</text></g>
<line x1="109.5" y1="305.45" x2="146.3" y2="305.45" stroke="#d830d8" stroke-width="1.6"/>
<path d="M127.80 308.45L130.30 303.45L125.30 303.45z" fill="#d830d8"/>
<g font-size="17.8" fill="#262626" font-family="'Liberation Serif', serif" stroke="#262626" stroke-width="0.2"><text x="154.78" y="311.75" textLength="8.50" lengthAdjust="spacingAndGlyphs">S</text><text x="163.63" y="311.75" textLength="8.50" lengthAdjust="spacingAndGlyphs">2</text><text x="172.48" y="311.75" textLength="8.50" lengthAdjust="spacingAndGlyphs">1</text><text x="181.06" y="311.75" textLength="9.03" lengthAdjust="spacingAndGlyphs">-</text><text x="190.18" y="311.75" textLength="8.50" lengthAdjust="spacingAndGlyphs">S</text><text x="200.80" y="311.75">i</text><text x="207.88" y="311.75" textLength="8.50" lengthAdjust="spacingAndGlyphs">m</text><text x="216.73" y="311.75" textLength="8.50" lengthAdjust="spacingAndGlyphs">u</text><text x="227.35" y="311.75">l</text><text x="234.72" y="311.75">a</text><text x="245.05" y="311.75">t</text><text x="253.90" y="311.75">i</text><text x="260.98" y="311.75" textLength="8.50" lengthAdjust="spacingAndGlyphs">o</text><text x="269.83" y="311.75" textLength="8.50" lengthAdjust="spacingAndGlyphs">n</text></g>
<g font-size="7.4" fill="#c85ac8" font-family="'Liberation Serif', serif" font-weight="bold"><text x="163.30" y="141.00">(</text><text x="166.54" y="141.00">1</text><text x="170.63" y="141.00">.</text><text x="174.26" y="141.00">9</text><text x="178.12" y="141.00">9</text><text x="182.21" y="141.00">,</text><text x="186.46" y="141.00">-</text><text x="189.70" y="141.00">1</text><text x="193.56" y="141.00">5</text><text x="198.04" y="141.00">)</text></g>
<g font-size="7.4" fill="#4a4a98" font-family="'Liberation Serif', serif" font-weight="bold"><text x="213.71" y="187.30">(</text><text x="216.97" y="187.30">2</text><text x="221.08" y="187.30">.</text><text x="224.73" y="187.30">2</text><text x="228.61" y="187.30">9</text><text x="232.72" y="187.30">,</text><text x="236.99" y="187.30">-</text><text x="240.25" y="187.30">2</text><text x="244.13" y="187.30">0</text><text x="248.24" y="187.30">.</text><text x="251.89" y="187.30">4</text><text x="256.39" y="187.30">)</text></g>
<g font-size="7.4" fill="#bb5858" font-family="'Liberation Serif', serif" font-weight="bold"><text x="296.50" y="147.80">(</text><text x="299.74" y="147.80">2</text><text x="303.83" y="147.80">.</text><text x="307.46" y="147.80">3</text><text x="311.32" y="147.80">4</text><text x="315.41" y="147.80">,</text><text x="319.66" y="147.80">-</text><text x="322.90" y="147.80">2</text><text x="326.76" y="147.80">0</text><text x="330.85" y="147.80">.</text><text x="334.48" y="147.80">8</text><text x="338.96" y="147.80">)</text></g>
<g font-size="7.4" fill="#5cc45c" font-family="'Liberation Serif', serif" font-weight="bold"><text x="311.25" y="167.30">(</text><text x="314.44" y="167.30" textLength="3.61" lengthAdjust="spacingAndGlyphs">2</text><text x="318.40" y="167.30">.</text><text x="321.96" y="167.30" textLength="3.61" lengthAdjust="spacingAndGlyphs">5</text><text x="325.92" y="167.30">,</text><text x="330.05" y="167.30">-</text><text x="333.24" y="167.30" textLength="3.61" lengthAdjust="spacingAndGlyphs">2</text><text x="337.00" y="167.30" textLength="3.61" lengthAdjust="spacingAndGlyphs">0</text><text x="340.96" y="167.30">.</text><text x="344.52" y="167.30" textLength="3.61" lengthAdjust="spacingAndGlyphs">5</text><text x="348.85" y="167.30">)</text></g>
<g font-size="7.4" fill="#4a4a98" font-family="'Liberation Serif', serif" font-weight="bold"><text x="370.84" y="179.70">(</text><text x="374.16" y="179.70">2</text><text x="378.32" y="179.70">.</text><text x="382.04" y="179.70">5</text><text x="385.98" y="179.70">4</text><text x="390.14" y="179.70">,</text><text x="394.48" y="179.70">-</text><text x="397.80" y="179.70">2</text><text x="401.74" y="179.70">0</text><text x="405.90" y="179.70">.</text><text x="409.62" y="179.70">7</text><text x="414.18" y="179.70">)</text></g>
<g font-size="7.4" fill="#b060c0" font-family="'Liberation Serif', serif" font-weight="bold"><text x="405.70" y="142.40">(</text><text x="408.94" y="142.40">2</text><text x="413.03" y="142.40">.</text><text x="416.66" y="142.40">6</text><text x="420.52" y="142.40">7</text><text x="424.61" y="142.40">,</text><text x="428.86" y="142.40">-</text><text x="432.10" y="142.40">1</text><text x="435.96" y="142.40">5</text><text x="440.05" y="142.40">.</text><text x="443.68" y="142.40">1</text><text x="448.16" y="142.40">)</text></g>
<text x="283.2" y="440.2" font-size="19.5" fill="#111" font-family="'Liberation Serif', serif">(<tspan font-weight="bold">a</tspan>)</text>
</svg>
</body></html>
